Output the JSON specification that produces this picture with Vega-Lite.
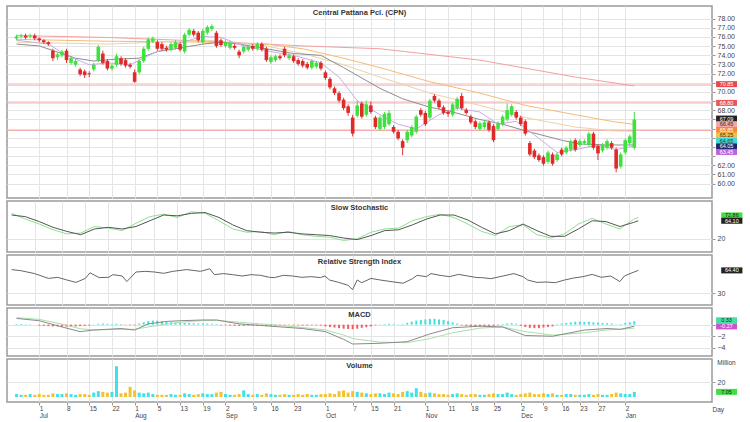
{
  "$schema": "https://vega.github.io/schema/vega-lite/v6.json",
  "background": "white",
  "padding": {"left": 5, "top": 5, "right": 2, "bottom": 0},
  "spacing": 1,
  "config": {
    "font": "Liberation Sans",
    "view": {"stroke": "#9a9a9a", "strokeWidth": 1.5},
    "axis": {"gridColor": "#e4e4e4", "gridWidth": 1, "labelFontSize": 7, "labelColor": "#444", "tickColor": "#999", "tickSize": 3, "domain": false, "labelPadding": 2},
    "title": {"fontSize": 7.5, "fontWeight": "bold", "color": "#333", "anchor": "middle", "offset": -10}
  },
  "datasets": {
    "candles": [
      {"i":0,"o":75.84,"h":76.25,"l":75.64,"c":76.05,"v":4,"hist":0.1},
      {"i":1,"o":76.05,"h":76.36,"l":75.84,"c":76.15,"v":3,"hist":0.1},
      {"i":2,"o":76.15,"h":76.36,"l":75.74,"c":75.94,"v":3,"hist":0.05},
      {"i":3,"o":76.05,"h":76.36,"l":75.84,"c":76.15,"v":4,"hist":0.05},
      {"i":4,"o":76.15,"h":76.36,"l":75.64,"c":75.84,"v":3,"hist":0.0},
      {"i":5,"o":75.84,"h":75.94,"l":75.43,"c":75.64,"v":4,"hist":-0.15},
      {"i":6,"o":75.64,"h":75.74,"l":75.22,"c":75.43,"v":3,"hist":-0.2},
      {"i":7,"o":75.43,"h":75.53,"l":75.02,"c":75.22,"v":3,"hist":-0.25},
      {"i":8,"o":74.50,"h":74.71,"l":73.37,"c":73.68,"v":5,"hist":-0.3},
      {"i":9,"o":73.78,"h":74.30,"l":73.47,"c":74.09,"v":4,"hist":-0.3},
      {"i":10,"o":73.99,"h":74.61,"l":73.78,"c":74.40,"v":4,"hist":-0.35},
      {"i":11,"o":74.50,"h":74.71,"l":73.17,"c":73.47,"v":5,"hist":-0.35},
      {"i":12,"o":73.17,"h":73.89,"l":72.96,"c":73.68,"v":4,"hist":-0.3},
      {"i":13,"o":72.96,"h":73.58,"l":72.75,"c":73.37,"v":3,"hist":-0.3},
      {"i":14,"o":72.45,"h":72.65,"l":71.72,"c":71.93,"v":4,"hist":-0.25},
      {"i":15,"o":72.24,"h":72.45,"l":71.52,"c":71.83,"v":4,"hist":-0.2},
      {"i":16,"o":72.03,"h":72.24,"l":71.62,"c":71.93,"v":3,"hist":-0.15},
      {"i":17,"o":72.45,"h":73.17,"l":72.24,"c":72.96,"v":6,"hist":0.05},
      {"i":18,"o":73.47,"h":75.12,"l":73.27,"c":74.92,"v":8,"hist":0.15},
      {"i":19,"o":74.19,"h":74.50,"l":72.96,"c":73.17,"v":7,"hist":0.2},
      {"i":20,"o":73.37,"h":73.58,"l":72.34,"c":72.55,"v":6,"hist":0.15},
      {"i":21,"o":72.55,"h":73.06,"l":72.34,"c":72.86,"v":7,"hist":0.1},
      {"i":22,"o":72.96,"h":74.19,"l":72.75,"c":73.89,"v":42,"hist":0.15},
      {"i":23,"o":73.68,"h":73.89,"l":72.86,"c":73.06,"v":5,"hist":0.1},
      {"i":24,"o":73.47,"h":73.68,"l":72.65,"c":72.86,"v":6,"hist":-0.05},
      {"i":25,"o":72.96,"h":73.17,"l":72.55,"c":72.75,"v":14,"hist":-0.1},
      {"i":26,"o":72.14,"h":72.45,"l":71.00,"c":71.11,"v":9,"hist":-0.1},
      {"i":27,"o":72.14,"h":73.58,"l":71.93,"c":73.37,"v":6,"hist":0.2},
      {"i":28,"o":73.37,"h":74.92,"l":73.17,"c":74.71,"v":5,"hist":0.4},
      {"i":29,"o":74.71,"h":75.94,"l":74.50,"c":75.74,"v":6,"hist":0.6},
      {"i":30,"o":75.53,"h":76.05,"l":75.33,"c":75.84,"v":4,"hist":0.7},
      {"i":31,"o":75.43,"h":75.64,"l":74.50,"c":74.71,"v":3,"hist":0.7},
      {"i":32,"o":75.22,"h":75.43,"l":74.50,"c":74.71,"v":3,"hist":0.6},
      {"i":33,"o":74.81,"h":75.02,"l":74.40,"c":74.61,"v":3,"hist":0.5},
      {"i":34,"o":74.61,"h":75.43,"l":74.40,"c":75.22,"v":4,"hist":0.4},
      {"i":35,"o":74.81,"h":75.64,"l":74.61,"c":75.43,"v":3,"hist":0.35},
      {"i":36,"o":75.22,"h":75.43,"l":74.40,"c":74.61,"v":3,"hist":0.3},
      {"i":37,"o":74.40,"h":76.46,"l":74.19,"c":76.25,"v":5,"hist":0.3},
      {"i":38,"o":76.25,"h":76.97,"l":76.05,"c":76.77,"v":4,"hist":0.3},
      {"i":39,"o":76.66,"h":76.87,"l":76.05,"c":76.25,"v":3,"hist":0.25},
      {"i":40,"o":76.46,"h":76.66,"l":75.43,"c":75.64,"v":4,"hist":0.2},
      {"i":41,"o":75.43,"h":76.87,"l":75.22,"c":76.66,"v":5,"hist":0.2},
      {"i":42,"o":76.46,"h":77.28,"l":76.25,"c":77.08,"v":4,"hist":0.2},
      {"i":43,"o":76.87,"h":77.38,"l":76.66,"c":77.18,"v":4,"hist":0.15},
      {"i":44,"o":76.46,"h":76.66,"l":74.81,"c":75.02,"v":6,"hist":0.1},
      {"i":45,"o":75.64,"h":75.84,"l":74.92,"c":75.12,"v":7,"hist":-0.1},
      {"i":46,"o":75.02,"h":75.64,"l":74.81,"c":75.43,"v":4,"hist":-0.1},
      {"i":47,"o":74.81,"h":75.53,"l":74.61,"c":75.33,"v":3,"hist":-0.15},
      {"i":48,"o":75.02,"h":75.22,"l":74.61,"c":74.81,"v":3,"hist":-0.2},
      {"i":49,"o":74.40,"h":74.61,"l":73.68,"c":73.99,"v":4,"hist":-0.2},
      {"i":50,"o":74.40,"h":75.12,"l":74.19,"c":74.92,"v":9,"hist":-0.2},
      {"i":51,"o":74.61,"h":75.12,"l":74.40,"c":74.92,"v":4,"hist":-0.15},
      {"i":52,"o":75.02,"h":75.22,"l":74.50,"c":74.71,"v":3,"hist":-0.15},
      {"i":53,"o":74.71,"h":75.43,"l":74.50,"c":75.22,"v":4,"hist":-0.2},
      {"i":54,"o":75.22,"h":75.43,"l":74.40,"c":74.61,"v":3,"hist":-0.2},
      {"i":55,"o":74.71,"h":74.92,"l":73.27,"c":73.47,"v":5,"hist":-0.25},
      {"i":56,"o":73.27,"h":73.99,"l":73.06,"c":73.78,"v":4,"hist":-0.2},
      {"i":57,"o":73.47,"h":74.09,"l":73.27,"c":73.89,"v":3,"hist":-0.15},
      {"i":58,"o":73.89,"h":74.09,"l":73.47,"c":73.68,"v":3,"hist":-0.1},
      {"i":59,"o":74.71,"h":74.92,"l":73.78,"c":73.99,"v":4,"hist":-0.1},
      {"i":60,"o":73.68,"h":74.19,"l":73.47,"c":73.99,"v":3,"hist":-0.05},
      {"i":61,"o":73.89,"h":74.09,"l":73.17,"c":73.37,"v":3,"hist":-0.1},
      {"i":62,"o":73.47,"h":73.68,"l":72.86,"c":73.06,"v":4,"hist":-0.1},
      {"i":63,"o":73.37,"h":73.58,"l":72.65,"c":72.86,"v":3,"hist":-0.15},
      {"i":64,"o":73.06,"h":73.27,"l":72.45,"c":72.65,"v":4,"hist":-0.15},
      {"i":65,"o":72.65,"h":73.58,"l":72.45,"c":73.37,"v":3,"hist":-0.1},
      {"i":66,"o":72.75,"h":73.37,"l":72.55,"c":73.17,"v":3,"hist":-0.1},
      {"i":67,"o":73.17,"h":73.37,"l":72.34,"c":72.55,"v":4,"hist":-0.15},
      {"i":68,"o":72.14,"h":72.34,"l":71.31,"c":71.52,"v":4,"hist":-0.3},
      {"i":69,"o":71.42,"h":71.62,"l":70.28,"c":70.49,"v":5,"hist":-0.4},
      {"i":70,"o":70.39,"h":70.59,"l":69.67,"c":69.87,"v":4,"hist":-0.5},
      {"i":71,"o":69.87,"h":70.08,"l":68.84,"c":69.05,"v":8,"hist":-0.6},
      {"i":72,"o":69.15,"h":69.36,"l":68.02,"c":68.23,"v":9,"hist":-0.7},
      {"i":73,"o":68.43,"h":68.64,"l":67.40,"c":67.71,"v":6,"hist":-0.75},
      {"i":74,"o":67.20,"h":67.51,"l":65.14,"c":65.45,"v":8,"hist":-0.8},
      {"i":75,"o":67.40,"h":69.05,"l":67.20,"c":68.53,"v":7,"hist":-0.7},
      {"i":76,"o":68.74,"h":68.95,"l":67.09,"c":67.30,"v":6,"hist":-0.55},
      {"i":77,"o":67.51,"h":69.05,"l":67.30,"c":68.64,"v":5,"hist":-0.45},
      {"i":78,"o":68.53,"h":68.95,"l":67.61,"c":67.81,"v":4,"hist":-0.3},
      {"i":79,"o":67.20,"h":67.40,"l":65.96,"c":66.17,"v":5,"hist":-0.1},
      {"i":80,"o":65.96,"h":67.40,"l":65.76,"c":67.20,"v":5,"hist":0.05},
      {"i":81,"o":66.17,"h":67.81,"l":65.96,"c":67.61,"v":4,"hist":0.1},
      {"i":82,"o":66.48,"h":68.02,"l":66.27,"c":67.71,"v":6,"hist":0.15},
      {"i":83,"o":66.17,"h":66.37,"l":65.45,"c":65.65,"v":5,"hist":0.1},
      {"i":84,"o":65.65,"h":65.86,"l":64.73,"c":64.93,"v":4,"hist":0.05},
      {"i":85,"o":64.63,"h":64.83,"l":63.08,"c":63.91,"v":7,"hist":0.1},
      {"i":86,"o":64.73,"h":65.86,"l":64.42,"c":65.65,"v":8,"hist":0.3},
      {"i":87,"o":65.24,"h":66.37,"l":65.04,"c":66.17,"v":6,"hist":0.5},
      {"i":88,"o":65.65,"h":67.51,"l":65.45,"c":67.30,"v":12,"hist":0.7},
      {"i":89,"o":68.02,"h":68.23,"l":67.30,"c":67.51,"v":7,"hist":0.8},
      {"i":90,"o":67.71,"h":67.92,"l":66.27,"c":66.48,"v":5,"hist":0.9},
      {"i":91,"o":67.20,"h":69.25,"l":66.99,"c":69.05,"v":6,"hist":1.0},
      {"i":92,"o":69.56,"h":69.77,"l":68.84,"c":69.05,"v":5,"hist":1.0},
      {"i":93,"o":69.05,"h":69.25,"l":68.12,"c":68.33,"v":4,"hist":0.9},
      {"i":94,"o":68.33,"h":68.53,"l":67.51,"c":67.71,"v":4,"hist":0.8},
      {"i":95,"o":67.81,"h":68.02,"l":67.30,"c":67.61,"v":3,"hist":0.6},
      {"i":96,"o":67.51,"h":68.84,"l":67.30,"c":68.64,"v":4,"hist":0.4},
      {"i":97,"o":68.23,"h":69.46,"l":68.02,"c":69.25,"v":5,"hist":0.2},
      {"i":98,"o":69.56,"h":69.87,"l":68.02,"c":68.23,"v":4,"hist":-0.1},
      {"i":99,"o":68.02,"h":68.23,"l":67.51,"c":67.71,"v":3,"hist":-0.2},
      {"i":100,"o":67.30,"h":67.51,"l":66.48,"c":66.68,"v":4,"hist":-0.3},
      {"i":101,"o":66.79,"h":66.99,"l":65.96,"c":66.17,"v":4,"hist":-0.35},
      {"i":102,"o":65.96,"h":66.79,"l":65.76,"c":66.58,"v":3,"hist":-0.3},
      {"i":103,"o":66.17,"h":66.89,"l":65.96,"c":66.68,"v":3,"hist":-0.25},
      {"i":104,"o":66.68,"h":66.89,"l":65.65,"c":65.86,"v":4,"hist":-0.2},
      {"i":105,"o":66.27,"h":66.48,"l":64.52,"c":64.73,"v":5,"hist":-0.2},
      {"i":106,"o":65.96,"h":66.79,"l":65.76,"c":66.58,"v":4,"hist":-0.1},
      {"i":107,"o":66.48,"h":67.51,"l":66.27,"c":67.30,"v":4,"hist":0.1},
      {"i":108,"o":66.99,"h":68.74,"l":66.79,"c":68.02,"v":6,"hist":0.2},
      {"i":109,"o":67.51,"h":68.64,"l":67.30,"c":68.43,"v":4,"hist":0.25},
      {"i":110,"o":67.81,"h":68.02,"l":66.99,"c":67.20,"v":3,"hist":0.15},
      {"i":111,"o":67.20,"h":67.40,"l":66.27,"c":66.48,"v":4,"hist":-0.2},
      {"i":112,"o":66.79,"h":66.99,"l":65.24,"c":65.45,"v":5,"hist":-0.4},
      {"i":113,"o":64.42,"h":64.63,"l":62.98,"c":63.18,"v":6,"hist":-0.55},
      {"i":114,"o":63.60,"h":63.80,"l":62.67,"c":62.88,"v":4,"hist":-0.6},
      {"i":115,"o":63.08,"h":63.29,"l":62.36,"c":62.57,"v":4,"hist":-0.6},
      {"i":116,"o":62.88,"h":63.08,"l":61.95,"c":62.16,"v":5,"hist":-0.5},
      {"i":117,"o":62.36,"h":63.60,"l":62.16,"c":63.39,"v":4,"hist":-0.4},
      {"i":118,"o":63.18,"h":63.39,"l":61.95,"c":62.16,"v":5,"hist":-0.3},
      {"i":119,"o":62.57,"h":63.39,"l":62.36,"c":63.18,"v":3,"hist":0.1},
      {"i":120,"o":63.70,"h":63.91,"l":62.98,"c":63.18,"v":3,"hist":0.2},
      {"i":121,"o":63.39,"h":64.11,"l":63.18,"c":63.91,"v":4,"hist":0.3},
      {"i":122,"o":63.70,"h":64.83,"l":63.49,"c":64.63,"v":4,"hist":0.4},
      {"i":123,"o":64.73,"h":64.93,"l":63.49,"c":63.70,"v":3,"hist":0.5},
      {"i":124,"o":64.21,"h":64.83,"l":64.01,"c":64.63,"v":3,"hist":0.5},
      {"i":125,"o":64.42,"h":64.83,"l":64.21,"c":64.63,"v":3,"hist":0.45},
      {"i":126,"o":64.21,"h":65.65,"l":64.01,"c":65.45,"v":4,"hist":0.5},
      {"i":127,"o":65.45,"h":65.65,"l":63.70,"c":63.91,"v":3,"hist":0.4},
      {"i":128,"o":64.11,"h":64.32,"l":62.57,"c":63.29,"v":4,"hist":0.35},
      {"i":129,"o":63.60,"h":64.42,"l":63.39,"c":64.21,"v":3,"hist":0.3},
      {"i":130,"o":63.91,"h":64.83,"l":63.70,"c":64.63,"v":3,"hist":0.25},
      {"i":131,"o":64.42,"h":64.63,"l":63.70,"c":63.91,"v":4,"hist":0.2},
      {"i":132,"o":63.70,"h":63.91,"l":61.23,"c":61.64,"v":6,"hist":0.05},
      {"i":133,"o":61.85,"h":63.39,"l":61.64,"c":63.18,"v":5,"hist":0.1},
      {"i":134,"o":63.39,"h":64.93,"l":63.18,"c":64.73,"v":4,"hist":0.3},
      {"i":135,"o":64.42,"h":65.35,"l":64.21,"c":65.14,"v":4,"hist":0.4},
      {"i":136,"o":63.91,"h":67.81,"l":63.70,"c":66.99,"v":7,"hist":0.6}
    ],
    "ma": [
      {"s":"ma200","i":0,"v":76.15},{"s":"ma200","i":20,"v":75.94},{"s":"ma200","i":42,"v":75.53},{"s":"ma200","i":63,"v":75.02},{"s":"ma200","i":80,"v":74.71},{"s":"ma200","i":102,"v":73.47},{"s":"ma200","i":123,"v":71.62},{"s":"ma200","i":136,"v":70.65},
      {"s":"ma100","i":0,"v":75.74},{"s":"ma100","i":20,"v":75.53},{"s":"ma100","i":42,"v":75.43},{"s":"ma100","i":55,"v":75.22},{"s":"ma100","i":63,"v":74.71},{"s":"ma100","i":72,"v":73.68},{"s":"ma100","i":80,"v":72.65},{"s":"ma100","i":91,"v":71.11},{"s":"ma100","i":102,"v":69.87},{"s":"ma100","i":112,"v":68.53},{"s":"ma100","i":123,"v":67.51},{"s":"ma100","i":131,"v":66.79},{"s":"ma100","i":136,"v":66.45},
      {"s":"ma50","i":0,"v":75.43},{"s":"ma50","i":20,"v":75.22},{"s":"ma50","i":42,"v":75.64},{"s":"ma50","i":55,"v":75.02},{"s":"ma50","i":63,"v":74.19},{"s":"ma50","i":72,"v":72.96},{"s":"ma50","i":80,"v":71.62},{"s":"ma50","i":91,"v":69.87},{"s":"ma50","i":102,"v":68.53},{"s":"ma50","i":112,"v":67.2},{"s":"ma50","i":123,"v":66.17},{"s":"ma50","i":131,"v":65.76},{"s":"ma50","i":136,"v":65.7},
      {"s":"ma25","i":0,"v":75.22},{"s":"ma25","i":5,"v":75.02},{"s":"ma25","i":13,"v":73.68},{"s":"ma25","i":17,"v":73.37},{"s":"ma25","i":22,"v":73.58},{"s":"ma25","i":27,"v":73.68},{"s":"ma25","i":31,"v":74.40},{"s":"ma25","i":35,"v":74.71},{"s":"ma25","i":41,"v":75.22},{"s":"ma25","i":45,"v":75.43},{"s":"ma25","i":49,"v":75.22},{"s":"ma25","i":55,"v":74.71},{"s":"ma25","i":61,"v":74.19},{"s":"ma25","i":67,"v":73.99},{"s":"ma25","i":72,"v":72.65},{"s":"ma25","i":80,"v":70.39},{"s":"ma25","i":85,"v":69.25},{"s":"ma25","i":91,"v":68.33},{"s":"ma25","i":96,"v":67.81},{"s":"ma25","i":102,"v":66.99},{"s":"ma25","i":107,"v":66.48},{"s":"ma25","i":112,"v":65.76},{"s":"ma25","i":120,"v":64.73},{"s":"ma25","i":124,"v":64.32},{"s":"ma25","i":130,"v":64.21},{"s":"ma25","i":136,"v":64.21},
      {"s":"ma10","i":0,"v":75.64},{"s":"ma10","i":7,"v":75.22},{"s":"ma10","i":11,"v":73.99},{"s":"ma10","i":16,"v":72.96},{"s":"ma10","i":20,"v":73.17},{"s":"ma10","i":25,"v":72.96},{"s":"ma10","i":30,"v":74.19},{"s":"ma10","i":35,"v":75.22},{"s":"ma10","i":41,"v":76.05},{"s":"ma10","i":45,"v":75.94},{"s":"ma10","i":50,"v":75.02},{"s":"ma10","i":56,"v":74.40},{"s":"ma10","i":61,"v":73.99},{"s":"ma10","i":67,"v":73.17},{"s":"ma10","i":71,"v":71.62},{"s":"ma10","i":75,"v":69.05},{"s":"ma10","i":80,"v":67.51},{"s":"ma10","i":84,"v":66.48},{"s":"ma10","i":88,"v":65.96},{"s":"ma10","i":93,"v":67.51},{"s":"ma10","i":97,"v":68.23},{"s":"ma10","i":102,"v":67.81},{"s":"ma10","i":106,"v":66.48},{"s":"ma10","i":110,"v":66.79},{"s":"ma10","i":115,"v":64.93},{"s":"ma10","i":119,"v":63.39},{"s":"ma10","i":123,"v":63.70},{"s":"ma10","i":128,"v":64.21},{"s":"ma10","i":132,"v":63.70},{"s":"ma10","i":136,"v":64.11}
    ],
    "levels": [{"p":70.75},{"p":68.8},{"p":65.8}],
    "tags": [
      {"p":70.85,"t":"70.85","col":"#e84848","tc":"white"},
      {"p":68.8,"t":"68.80","col":"#e85a5a","tc":"white"},
      {"p":67.09,"t":"67.09","col":"#222222","tc":"white"},
      {"p":66.45,"t":"66.45","col":"#f4a6a6","tc":"#333"},
      {"p":65.85,"t":"65.85","col":"#f08a40","tc":"white"},
      {"p":65.25,"t":"65.25","col":"#f5c040","tc":"#333"},
      {"p":64.65,"t":"64.65","col":"#40d8d8","tc":"#333"},
      {"p":64.05,"t":"64.05","col":"#1a2a6a","tc":"white"},
      {"p":63.45,"t":"63.45","col":"#c060e0","tc":"white"}
    ],
    "tagStoch": [{"p":77,"t":"72.86","col":"#44dd44","tc":"#222"},{"p":64,"t":"64.10","col":"#222222","tc":"white"}],
    "tagRsi": [{"p":64.4,"t":"64.40","col":"#222222","tc":"white"}],
    "tagMacd": [{"p":0.75,"t":"0.33","col":"#44e0a0","tc":"#222"},{"p":-0.3,"t":"-0.27","col":"#d050d0","tc":"white"}],
    "tagVol": [{"p":7,"t":"7.05","col":"#44dd44","tc":"#222"}],
    "stoch": [
      {"i":0,"k":82,"d":78},{"i":3,"k":68,"d":74},{"i":6,"k":56,"d":62},{"i":9,"k":42,"d":48},{"i":12,"k":32,"d":38},{"i":15,"k":34,"d":30},{"i":18,"k":50,"d":44},{"i":21,"k":46,"d":48},{"i":24,"k":40,"d":44},{"i":27,"k":58,"d":50},{"i":30,"k":74,"d":64},{"i":33,"k":80,"d":78},{"i":36,"k":72,"d":76},{"i":39,"k":86,"d":82},{"i":42,"k":82,"d":84},{"i":45,"k":64,"d":72},{"i":48,"k":44,"d":54},{"i":51,"k":36,"d":40},{"i":54,"k":38,"d":36},{"i":57,"k":30,"d":34},{"i":60,"k":38,"d":36},{"i":63,"k":30,"d":32},{"i":66,"k":26,"d":30},{"i":69,"k":24,"d":28},{"i":72,"k":16,"d":22},{"i":75,"k":20,"d":18},{"i":78,"k":36,"d":28},{"i":81,"k":44,"d":40},{"i":84,"k":46,"d":42},{"i":87,"k":64,"d":54},{"i":90,"k":74,"d":68},{"i":93,"k":80,"d":78},{"i":96,"k":72,"d":78},{"i":99,"k":56,"d":66},{"i":102,"k":38,"d":48},{"i":105,"k":28,"d":32},{"i":108,"k":50,"d":40},{"i":111,"k":54,"d":56},{"i":114,"k":30,"d":40},{"i":117,"k":22,"d":26},{"i":120,"k":32,"d":26},{"i":123,"k":56,"d":44},{"i":126,"k":70,"d":64},{"i":129,"k":56,"d":62},{"i":132,"k":44,"d":50},{"i":135,"k":68,"d":60},{"i":136,"k":72,"d":64}
    ],
    "rsi": [
      {"i":0,"r":65.6},{"i":2,"r":64},{"i":5,"r":59.6},{"i":8,"r":52.4},{"i":10,"r":54},{"i":12,"r":50},{"i":14,"r":46.4},{"i":16,"r":52.4},{"i":17,"r":60.8},{"i":19,"r":53.6},{"i":21,"r":54},{"i":22,"r":58},{"i":24,"r":56},{"i":25,"r":47.6},{"i":27,"r":62},{"i":29,"r":63},{"i":31,"r":62},{"i":33,"r":60},{"i":35,"r":63},{"i":38,"r":65.6},{"i":41,"r":63},{"i":43,"r":66.8},{"i":44,"r":58},{"i":46,"r":59.6},{"i":48,"r":58},{"i":50,"r":56},{"i":52,"r":58},{"i":54,"r":57},{"i":56,"r":54},{"i":57,"r":53.6},{"i":59,"r":57},{"i":61,"r":56},{"i":63,"r":54},{"i":65,"r":55},{"i":67,"r":53.6},{"i":68,"r":56},{"i":69,"r":50},{"i":71,"r":46.4},{"i":73,"r":42},{"i":74,"r":35.6},{"i":75,"r":50},{"i":76,"r":46},{"i":78,"r":52.4},{"i":80,"r":50},{"i":83,"r":47},{"i":85,"r":45.2},{"i":87,"r":52},{"i":88,"r":57},{"i":90,"r":55},{"i":91,"r":59.6},{"i":93,"r":57},{"i":95,"r":55},{"i":97,"r":58.4},{"i":99,"r":56},{"i":101,"r":53.6},{"i":102,"r":53.6},{"i":104,"r":52},{"i":106,"r":55},{"i":109,"r":59.6},{"i":111,"r":55},{"i":112,"r":50},{"i":114,"r":46.4},{"i":116,"r":47},{"i":118,"r":46},{"i":120,"r":50},{"i":122,"r":53},{"i":124,"r":55},{"i":126,"r":58.4},{"i":128,"r":54},{"i":130,"r":56},{"i":132,"r":47.6},{"i":133,"r":56},{"i":134,"r":59},{"i":136,"r":64.4}
    ],
    "macd": [
      {"i":0,"m":1.07,"s":1.2},{"i":5,"m":0.67,"s":0.9},{"i":10,"m":-0.4,"s":0.1},{"i":14,"m":-1.2,"s":-0.7},{"i":17,"m":-0.93,"s":-0.9},{"i":23,"m":-0.67,"s":-0.8},{"i":26,"m":-0.93,"s":-0.8},{"i":29,"m":0.13,"s":-0.4},{"i":33,"m":0.55,"s":0.1},{"i":36,"m":0.67,"s":0.4},{"i":41,"m":0.8,"s":0.7},{"i":44,"m":0.8,"s":0.75},{"i":49,"m":0.13,"s":0.4},{"i":56,"m":-0.27,"s":0.0},{"i":63,"m":-0.67,"s":-0.5},{"i":68,"m":-1.2,"s":-0.9},{"i":72,"m":-2.53,"s":-1.8},{"i":74,"m":-3.33,"s":-2.4},{"i":80,"m":-3.2,"s":-3.0},{"i":86,"m":-2.93,"s":-3.1},{"i":91,"m":-1.6,"s":-2.4},{"i":96,"m":-0.53,"s":-1.4},{"i":102,"m":-0.27,"s":-0.6},{"i":107,"m":-0.4,"s":-0.4},{"i":112,"m":-1.87,"s":-1.2},{"i":118,"m":-2.0,"s":-1.8},{"i":125,"m":-0.93,"s":-1.4},{"i":130,"m":-0.67,"s":-0.9},{"i":133,"m":-0.8,"s":-0.8},{"i":136,"m":-0.27,"s":-0.6}
    ]
  },
  "vconcat": [
    {
      "width": 705, "height": 192,
      "title": {"text": "Central Pattana Pcl. (CPN)"},
      "layer": [
        {"data": {"name": "levels"}, "mark": {"type": "rule", "color": "#f2a8a8", "strokeWidth": 1},
         "encoding": {"y": {"field": "p", "type": "quantitative", "scale": {"domain": [58.97, 78.83], "nice": false, "zero": false},
           "axis": {"orient": "right", "values": [60,61,62,63,64,65,66,67,68,69,70,71,72,73,74,75,76,77,78], "labelExpr": "indexof([63,64,65,66,67,69,71], datum.value) >= 0 ? '' : format(datum.value, '.2f')", "grid": true, "title": null}}}},
        {"data": {"name": "ma"}, "mark": {"type": "line", "strokeWidth": 1, "clip": true},
         "encoding": {
           "x": {"field": "i", "type": "quantitative", "scale": {"domain": [-1, 152], "nice": false, "zero": false},
             "axis": {"values": [5,11,16,21,26,31,36,41,46,52,56,61,68,74,78,83,90,95,100,105,111,116,120,124,128,134], "labels": false, "ticks": false, "grid": true, "title": null}},
           "y": {"field": "v", "type": "quantitative",
             "axis": {"orient": "right", "values": [60,61,62,63,64,65,66,67,68,69,70,71,72,73,74,75,76,77,78], "labelExpr": "indexof([63,64,65,66,67,69,71], datum.value) >= 0 ? '' : format(datum.value, '.2f')", "grid": true, "title": null}},
           "color": {"field": "s", "type": "nominal", "scale": {"domain": ["ma200", "ma100", "ma50", "ma25", "ma10"], "range": ["#f2a0a0", "#f5bb78", "#ead3a8", "#8e8e8e", "#c6aee8"]}, "legend": null}}},
        {"data": {"name": "candles"}, "mark": {"type": "rule", "strokeWidth": 1},
         "encoding": {
           "x": {"field": "i", "type": "quantitative",
             "axis": {"values": [5,11,16,21,26,31,36,41,46,52,56,61,68,74,78,83,90,95,100,105,111,116,120,124,128,134], "labels": false, "ticks": false, "grid": true, "title": null}},
           "y": {"field": "l", "type": "quantitative",
             "axis": {"orient": "right", "values": [60,61,62,63,64,65,66,67,68,69,70,71,72,73,74,75,76,77,78], "labelExpr": "indexof([63,64,65,66,67,69,71], datum.value) >= 0 ? '' : format(datum.value, '.2f')", "grid": true, "title": null}},
           "y2": {"field": "h"},
           "color": {"condition": {"test": "datum.c >= datum.o", "value": "#44dd44"}, "value": "#dd3333"}}},
        {"data": {"name": "candles"}, "mark": {"type": "bar", "size": 3.6, "orient": "vertical"},
         "encoding": {
           "x": {"field": "i", "type": "quantitative",
             "axis": {"values": [5,11,16,21,26,31,36,41,46,52,56,61,68,74,78,83,90,95,100,105,111,116,120,124,128,134], "labels": false, "ticks": false, "grid": true, "title": null}},
           "y": {"field": "o", "type": "quantitative",
             "axis": {"orient": "right", "values": [60,61,62,63,64,65,66,67,68,69,70,71,72,73,74,75,76,77,78], "labelExpr": "indexof([63,64,65,66,67,69,71], datum.value) >= 0 ? '' : format(datum.value, '.2f')", "grid": true, "title": null}},
           "y2": {"field": "c"},
           "color": {"condition": {"test": "datum.c >= datum.o", "value": "#3fe03f"}, "value": "#e02a2a"}}},
        {"data": {"name": "tags"}, "mark": {"type": "bar", "size": 6, "orient": "horizontal", "clip": false},
         "encoding": {
           "x": {"datum": 154.0, "type": "quantitative",
             "axis": {"values": [5,11,16,21,26,31,36,41,46,52,56,61,68,74,78,83,90,95,100,105,111,116,120,124,128,134], "labels": false, "ticks": false, "grid": true, "title": null}},
           "x2": {"datum": 158.6},
           "y": {"field": "p", "type": "quantitative",
             "axis": {"orient": "right", "values": [60,61,62,63,64,65,66,67,68,69,70,71,72,73,74,75,76,77,78], "labelExpr": "indexof([63,64,65,66,67,69,71], datum.value) >= 0 ? '' : format(datum.value, '.2f')", "grid": true, "title": null}},
           "color": {"field": "col", "type": "nominal", "scale": null}}},
        {"data": {"name": "tags"}, "mark": {"type": "text", "fontSize": 5.5, "align": "center", "baseline": "middle", "clip": false},
         "encoding": {
           "x": {"datum": 156.3, "type": "quantitative",
             "axis": {"values": [5,11,16,21,26,31,36,41,46,52,56,61,68,74,78,83,90,95,100,105,111,116,120,124,128,134], "labels": false, "ticks": false, "grid": true, "title": null}},
           "y": {"field": "p", "type": "quantitative",
             "axis": {"orient": "right", "values": [60,61,62,63,64,65,66,67,68,69,70,71,72,73,74,75,76,77,78], "labelExpr": "indexof([63,64,65,66,67,69,71], datum.value) >= 0 ? '' : format(datum.value, '.2f')", "grid": true, "title": null}},
           "text": {"field": "t"},
           "color": {"field": "tc", "type": "nominal", "scale": null}}}
      ]
    },
    {
      "width": 705, "height": 51,
      "title": {"text": "Slow Stochastic"},
      "layer": [
        {"data": {"name": "stoch"}, "mark": {"type": "line", "color": "#8fe08f", "strokeWidth": 1},
         "encoding": {
           "x": {"field": "i", "type": "quantitative", "scale": {"domain": [-1, 152], "nice": false, "zero": false},
             "axis": {"values": [5,11,16,21,26,31,36,41,46,52,56,61,68,74,78,83,90,95,100,105,111,116,120,124,128,134], "labels": false, "ticks": false, "grid": true, "title": null}},
           "y": {"field": "k", "type": "quantitative", "scale": {"domain": [0, 100], "nice": false},
             "axis": {"orient": "right", "values": [20], "grid": true, "title": null}}}},
        {"data": {"name": "stoch"}, "mark": {"type": "line", "color": "#555555", "strokeWidth": 1},
         "encoding": {
           "x": {"field": "i", "type": "quantitative",
             "axis": {"values": [5,11,16,21,26,31,36,41,46,52,56,61,68,74,78,83,90,95,100,105,111,116,120,124,128,134], "labels": false, "ticks": false, "grid": true, "title": null}},
           "y": {"field": "d", "type": "quantitative",
             "axis": {"orient": "right", "values": [20], "grid": true, "title": null}}}},
        {"data": {"name": "tagStoch"}, "mark": {"type": "bar", "size": 6, "orient": "horizontal", "clip": false},
         "encoding": {
           "x": {"datum": 154.0, "type": "quantitative",
             "axis": {"values": [5,11,16,21,26,31,36,41,46,52,56,61,68,74,78,83,90,95,100,105,111,116,120,124,128,134], "labels": false, "ticks": false, "grid": true, "title": null}},
           "x2": {"datum": 158.6},
           "y": {"field": "p", "type": "quantitative",
             "axis": {"orient": "right", "values": [20], "grid": true, "title": null}},
           "color": {"field": "col", "type": "nominal", "scale": null}}},
        {"data": {"name": "tagStoch"}, "mark": {"type": "text", "fontSize": 5.5, "align": "center", "baseline": "middle", "clip": false},
         "encoding": {
           "x": {"datum": 156.3, "type": "quantitative",
             "axis": {"values": [5,11,16,21,26,31,36,41,46,52,56,61,68,74,78,83,90,95,100,105,111,116,120,124,128,134], "labels": false, "ticks": false, "grid": true, "title": null}},
           "y": {"field": "p", "type": "quantitative",
             "axis": {"orient": "right", "values": [20], "grid": true, "title": null}},
           "text": {"field": "t"},
           "color": {"field": "tc", "type": "nominal", "scale": null}}}
      ]
    },
    {
      "width": 705, "height": 50,
      "title": {"text": "Relative Strength Index"},
      "layer": [
        {"data": {"name": "rsi"}, "mark": {"type": "line", "color": "#666666", "strokeWidth": 1},
         "encoding": {
           "x": {"field": "i", "type": "quantitative", "scale": {"domain": [-1, 152], "nice": false, "zero": false},
             "axis": {"values": [5,11,16,21,26,31,36,41,46,52,56,61,68,74,78,83,90,95,100,105,111,116,120,124,128,134], "labels": false, "ticks": false, "grid": true, "title": null}},
           "y": {"field": "r", "type": "quantitative", "scale": {"domain": [20, 80], "nice": false, "zero": false},
             "axis": {"orient": "right", "values": [30], "grid": true, "title": null}}}},
        {"data": {"name": "tagRsi"}, "mark": {"type": "bar", "size": 6, "orient": "horizontal", "clip": false},
         "encoding": {
           "x": {"datum": 154.0, "type": "quantitative",
             "axis": {"values": [5,11,16,21,26,31,36,41,46,52,56,61,68,74,78,83,90,95,100,105,111,116,120,124,128,134], "labels": false, "ticks": false, "grid": true, "title": null}},
           "x2": {"datum": 158.6},
           "y": {"field": "p", "type": "quantitative",
             "axis": {"orient": "right", "values": [30], "grid": true, "title": null}},
           "color": {"field": "col", "type": "nominal", "scale": null}}},
        {"data": {"name": "tagRsi"}, "mark": {"type": "text", "fontSize": 5.5, "align": "center", "baseline": "middle", "clip": false},
         "encoding": {
           "x": {"datum": 156.3, "type": "quantitative",
             "axis": {"values": [5,11,16,21,26,31,36,41,46,52,56,61,68,74,78,83,90,95,100,105,111,116,120,124,128,134], "labels": false, "ticks": false, "grid": true, "title": null}},
           "y": {"field": "p", "type": "quantitative",
             "axis": {"orient": "right", "values": [30], "grid": true, "title": null}},
           "text": {"field": "t"},
           "color": {"field": "tc", "type": "nominal", "scale": null}}}
      ]
    },
    {
      "width": 705, "height": 48,
      "title": {"text": "MACD"},
      "layer": [
        {"data": {"name": "candles"}, "mark": {"type": "bar", "size": 2, "orient": "vertical"},
         "encoding": {
           "x": {"field": "i", "type": "quantitative", "scale": {"domain": [-1, 152], "nice": false, "zero": false},
             "axis": {"values": [5,11,16,21,26,31,36,41,46,52,56,61,68,74,78,83,90,95,100,105,111,116,120,124,128,134], "labels": false, "ticks": false, "grid": true, "title": null}},
           "y": {"field": "hist", "type": "quantitative", "scale": {"domain": [-4.53, 2.0], "nice": false, "zero": false},
             "axis": {"orient": "right", "values": [-4, -2, 0], "labelExpr": "datum.value == 0 ? '' : format(datum.value, 'd')", "grid": true, "title": null}},
           "y2": {"datum": 0},
           "color": {"condition": {"test": "datum.hist >= 0", "value": "#40e0e0"}, "value": "#f06060"}}},
        {"data": {"name": "macd"}, "mark": {"type": "line", "color": "#a8e0a8", "strokeWidth": 1},
         "encoding": {
           "x": {"field": "i", "type": "quantitative",
             "axis": {"values": [5,11,16,21,26,31,36,41,46,52,56,61,68,74,78,83,90,95,100,105,111,116,120,124,128,134], "labels": false, "ticks": false, "grid": true, "title": null}},
           "y": {"field": "s", "type": "quantitative",
             "axis": {"orient": "right", "values": [-4, -2, 0], "labelExpr": "datum.value == 0 ? '' : format(datum.value, 'd')", "grid": true, "title": null}}}},
        {"data": {"name": "macd"}, "mark": {"type": "line", "color": "#8a8a8a", "strokeWidth": 1},
         "encoding": {
           "x": {"field": "i", "type": "quantitative",
             "axis": {"values": [5,11,16,21,26,31,36,41,46,52,56,61,68,74,78,83,90,95,100,105,111,116,120,124,128,134], "labels": false, "ticks": false, "grid": true, "title": null}},
           "y": {"field": "m", "type": "quantitative",
             "axis": {"orient": "right", "values": [-4, -2, 0], "labelExpr": "datum.value == 0 ? '' : format(datum.value, 'd')", "grid": true, "title": null}}}},
        {"data": {"name": "tagMacd"}, "mark": {"type": "bar", "size": 6, "orient": "horizontal", "clip": false},
         "encoding": {
           "x": {"datum": 154.0, "type": "quantitative",
             "axis": {"values": [5,11,16,21,26,31,36,41,46,52,56,61,68,74,78,83,90,95,100,105,111,116,120,124,128,134], "labels": false, "ticks": false, "grid": true, "title": null}},
           "x2": {"datum": 158.6},
           "y": {"field": "p", "type": "quantitative",
             "axis": {"orient": "right", "values": [-4, -2, 0], "labelExpr": "datum.value == 0 ? '' : format(datum.value, 'd')", "grid": true, "title": null}},
           "color": {"field": "col", "type": "nominal", "scale": null}}},
        {"data": {"name": "tagMacd"}, "mark": {"type": "text", "fontSize": 5.5, "align": "center", "baseline": "middle", "clip": false},
         "encoding": {
           "x": {"datum": 156.3, "type": "quantitative",
             "axis": {"values": [5,11,16,21,26,31,36,41,46,52,56,61,68,74,78,83,90,95,100,105,111,116,120,124,128,134], "labels": false, "ticks": false, "grid": true, "title": null}},
           "y": {"field": "p", "type": "quantitative",
             "axis": {"orient": "right", "values": [-4, -2, 0], "labelExpr": "datum.value == 0 ? '' : format(datum.value, 'd')", "grid": true, "title": null}},
           "text": {"field": "t"},
           "color": {"field": "tc", "type": "nominal", "scale": null}}}
      ]
    },
    {
      "width": 705, "height": 43,
      "title": {"text": "Volume"},
      "layer": [
        {"data": {"name": "candles"}, "mark": {"type": "bar", "size": 3, "orient": "vertical"},
         "encoding": {
           "x": {"field": "i", "type": "quantitative", "scale": {"domain": [-1, 152], "nice": false, "zero": false},
             "axis": {"values": [5,11,16,21,26,31,36,41,46,52,56,61,68,74,78,83,90,95,100,105,111,116,120,124,128,134],
                      "labelExpr": "[['1','Jul'],'8','15','22',['1','Aug'],'5','13','19',['2','Sep'],'9','16','23',['1','Oct'],'7','15','21',['1','Nov'],'11','18','25',['2','Dec'],'9','16','23','27',['2','Jan']][indexof([5,11,16,21,26,31,36,41,46,52,56,61,68,74,78,83,90,95,100,105,111,116,120,124,128,134], datum.value)]",
                      "labelAlign": "left", "labelOverlap": false, "labelFlush": false, "labelFontSize": 6.5, "labelLineHeight": 7, "labelPadding": 0, "tickSize": 3, "ticks": true, "grid": true,
                      "title": "Day", "titleAnchor": "end", "titleAlign": "left", "titleBaseline": "bottom", "titleFontSize": 6.5, "titleFontWeight": "normal", "titleColor": "#444", "titlePadding": -6}},
           "y": {"field": "v", "type": "quantitative", "scale": {"domain": [0, 45], "nice": false},
             "axis": {"orient": "right", "values": [20], "grid": true,
                      "title": "Million", "titleAngle": 0, "titleAnchor": "end", "titleAlign": "left", "titleBaseline": "top", "titleFontSize": 6.5, "titleFontWeight": "normal", "titleColor": "#444", "titlePadding": -8}},
           "color": {"condition": {"test": "datum.c >= datum.o", "value": "#44e0e8"}, "value": "#f2c230"}}},
        {"data": {"name": "tagVol"}, "mark": {"type": "bar", "size": 6, "orient": "horizontal", "clip": false},
         "encoding": {
           "x": {"datum": 154.0, "type": "quantitative",
             "axis": {"values": [5,11,16,21,26,31,36,41,46,52,56,61,68,74,78,83,90,95,100,105,111,116,120,124,128,134],
                      "labelExpr": "[['1','Jul'],'8','15','22',['1','Aug'],'5','13','19',['2','Sep'],'9','16','23',['1','Oct'],'7','15','21',['1','Nov'],'11','18','25',['2','Dec'],'9','16','23','27',['2','Jan']][indexof([5,11,16,21,26,31,36,41,46,52,56,61,68,74,78,83,90,95,100,105,111,116,120,124,128,134], datum.value)]",
                      "labelAlign": "left", "labelOverlap": false, "labelFlush": false, "labelFontSize": 6.5, "labelLineHeight": 7, "labelPadding": 0, "tickSize": 3, "ticks": true, "grid": true,
                      "title": "Day", "titleAnchor": "end", "titleAlign": "left", "titleBaseline": "bottom", "titleFontSize": 6.5, "titleFontWeight": "normal", "titleColor": "#444", "titlePadding": -6}},
           "x2": {"datum": 158.6},
           "y": {"field": "p", "type": "quantitative",
             "axis": {"orient": "right", "values": [20], "grid": true,
                      "title": "Million", "titleAngle": 0, "titleAnchor": "end", "titleAlign": "left", "titleBaseline": "top", "titleFontSize": 6.5, "titleFontWeight": "normal", "titleColor": "#444", "titlePadding": -8}},
           "color": {"field": "col", "type": "nominal", "scale": null}}},
        {"data": {"name": "tagVol"}, "mark": {"type": "text", "fontSize": 5.5, "align": "center", "baseline": "middle", "clip": false},
         "encoding": {
           "x": {"datum": 156.3, "type": "quantitative",
             "axis": {"values": [5,11,16,21,26,31,36,41,46,52,56,61,68,74,78,83,90,95,100,105,111,116,120,124,128,134],
                      "labelExpr": "[['1','Jul'],'8','15','22',['1','Aug'],'5','13','19',['2','Sep'],'9','16','23',['1','Oct'],'7','15','21',['1','Nov'],'11','18','25',['2','Dec'],'9','16','23','27',['2','Jan']][indexof([5,11,16,21,26,31,36,41,46,52,56,61,68,74,78,83,90,95,100,105,111,116,120,124,128,134], datum.value)]",
                      "labelAlign": "left", "labelOverlap": false, "labelFlush": false, "labelFontSize": 6.5, "labelLineHeight": 7, "labelPadding": 0, "tickSize": 3, "ticks": true, "grid": true,
                      "title": "Day", "titleAnchor": "end", "titleAlign": "left", "titleBaseline": "bottom", "titleFontSize": 6.5, "titleFontWeight": "normal", "titleColor": "#444", "titlePadding": -6}},
           "y": {"field": "p", "type": "quantitative",
             "axis": {"orient": "right", "values": [20], "grid": true,
                      "title": "Million", "titleAngle": 0, "titleAnchor": "end", "titleAlign": "left", "titleBaseline": "top", "titleFontSize": 6.5, "titleFontWeight": "normal", "titleColor": "#444", "titlePadding": -8}},
           "text": {"field": "t"},
           "color": {"field": "tc", "type": "nominal", "scale": null}}}
      ]
    }
  ]
}
